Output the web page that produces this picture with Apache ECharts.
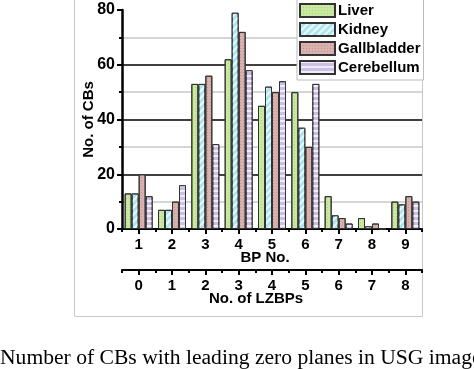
<!DOCTYPE html>
<html><head><meta charset="utf-8">
<script src="https://cdn.jsdelivr.net/npm/echarts@6/dist/echarts.min.js"></script>
<style>html,body{margin:0;padding:0;background:#fff}#c{width:474px;height:369px}</style>
</head><body><div id="c"></div>
<script>
const bpLabels = ['1','2','3','4','5','6','7','8','9'];
const lzbpLabels = ['0','1','2','3','4','5','6','7','8'];
const yTicks = [0,20,40,60,80];
const seriesNames = ['Liver','Kidney','Gallbladder','Cerebellum'];
const liver = [13,7,53,62,45,50,12,4,10];
const kidney = [13,7,53,79,52,37,5,1,9];
const gallbladder = [20,10,56,72,50,30,4,2,12];
const cerebellum = [12,16,31,58,54,53,2,0,10];
const caption = 'Number of CBs with leading zero planes in USG images';

const colors = ['#c9e8a0','#ade6f0','#d9b2b0','#cbbfe6'];
const decals = [
  {symbol:'rect', color:'rgba(150,190,100,0.5)', dashArrayX:[1,2], dashArrayY:[1,2], symbolSize:1},
  {symbol:'rect', color:'rgba(255,255,255,0.75)', dashArrayX:[1,0], dashArrayY:[2,3], rotation:-Math.PI/4, symbolSize:1},
  {symbol:'rect', color:'rgba(160,110,110,0.45)', dashArrayX:[1,2], dashArrayY:[1,2], symbolSize:1},
  {symbol:'rect', color:'rgba(255,255,255,0.7)', dashArrayX:[1,0], dashArrayY:[2,3], symbolSize:1}
];
const dataArr = [liver,kidney,gallbladder,cerebellum];
const font = 'Liberation Sans, Arial, sans-serif';

const chart = echarts.init(document.getElementById('c'), null, {renderer:'canvas'});
const axisBase = {
  type:'category', position:'bottom', boundaryGap:true,
  axisLine:{show:true, lineStyle:{color:'#000', width:2}},
  axisLabel:{color:'#000', fontFamily:font, fontWeight:'bold', fontSize:15, margin:8},
  splitLine:{show:false}
};
chart.setOption({
  animation:false,
  grid:{left:122, right:52, top:10, bottom:140, containLabel:false},
  legend:{
    orient:'vertical', left:297, top:-1, itemWidth:35, itemHeight:13, itemGap:4,
    padding:[4,3,5,2], icon:'rect',
    backgroundColor:'#fff', borderColor:'#bbb', borderWidth:1,
    textStyle:{color:'#000', fontFamily:font, fontWeight:'bold', fontSize:15, padding:[0,0,0,-2]},
    data:seriesNames
  },
  xAxis:[
    Object.assign({}, axisBase, {
      data:bpLabels,
      axisTick:{show:true, alignWithLabel:true, length:5, lineStyle:{color:'#000', width:2}},
      name:'BP No.', nameLocation:'middle', nameGap:21, nameMoveOverlap:false,
      nameTextStyle:{color:'#000', fontFamily:font, fontWeight:'bold', fontSize:15, padding:[0,14,0,0]}
    }),
    Object.assign({}, axisBase, {
      data:bpLabels, axisLine:{show:false},
      axisTick:{show:true, alignWithLabel:false, length:3, lineStyle:{color:'#000', width:2}},
      axisLabel:{show:false}
    }),
    Object.assign({}, axisBase, {
      data:lzbpLabels, offset:41,
      axisTick:{show:true, alignWithLabel:true, length:5, lineStyle:{color:'#000', width:2}},
      name:'No. of LZBPs', nameLocation:'middle', nameGap:21, nameMoveOverlap:false,
      nameTextStyle:{color:'#000', fontFamily:font, fontWeight:'bold', fontSize:15, padding:[0,32,0,0]}
    }),
    Object.assign({}, axisBase, {
      data:lzbpLabels, offset:41, axisLine:{show:false},
      axisTick:{show:true, alignWithLabel:false, length:3, lineStyle:{color:'#000', width:2}},
      axisLabel:{show:false}
    })
  ],
  yAxis:{
    type:'value', min:yTicks[0], max:yTicks[yTicks.length-1], interval:20,
    axisLine:{show:true, lineStyle:{color:'#000', width:2.5}},
    axisTick:{show:true, inside:false, length:5, lineStyle:{color:'#000', width:2}},
    minorTick:{show:true, splitNumber:2, length:3, lineStyle:{color:'#000', width:2}},
    axisLabel:{color:'#000', fontFamily:font, fontWeight:'bold', fontSize:16, margin:7},
    splitLine:{show:true, showMinLine:false, showMaxLine:false, lineStyle:{color:'#000', width:1.5}},
    minorSplitLine:{show:true, lineStyle:{color:'#c8c8c8', width:1.5}},
    name:'No. of CBs', nameLocation:'middle', nameGap:26, nameMoveOverlap:false,
    nameTextStyle:{color:'#000', fontFamily:font, fontWeight:'bold', fontSize:15}
  },
  series: seriesNames.map((n,i)=>({
    name:n, type:'bar', xAxisIndex:0, data:dataArr[i],
    barGap:'0%', barCategoryGap:'16%',
    itemStyle:{color:colors[i], borderColor:'#333', borderWidth:1, decal:decals[i]}
  })),
  graphic:[
    {type:'rect', z:-10, silent:true, shape:{x:74.5, y:-5, width:348, height:321.5},
     style:{fill:'none', stroke:'#c8c8c8', lineWidth:1}},
    {type:'text', left:0, top:347, silent:true,
     style:{text:caption, fill:'#000', font:'21.6px "Liberation Serif", "Times New Roman", serif'}}
  ]
});
</script></body></html>
